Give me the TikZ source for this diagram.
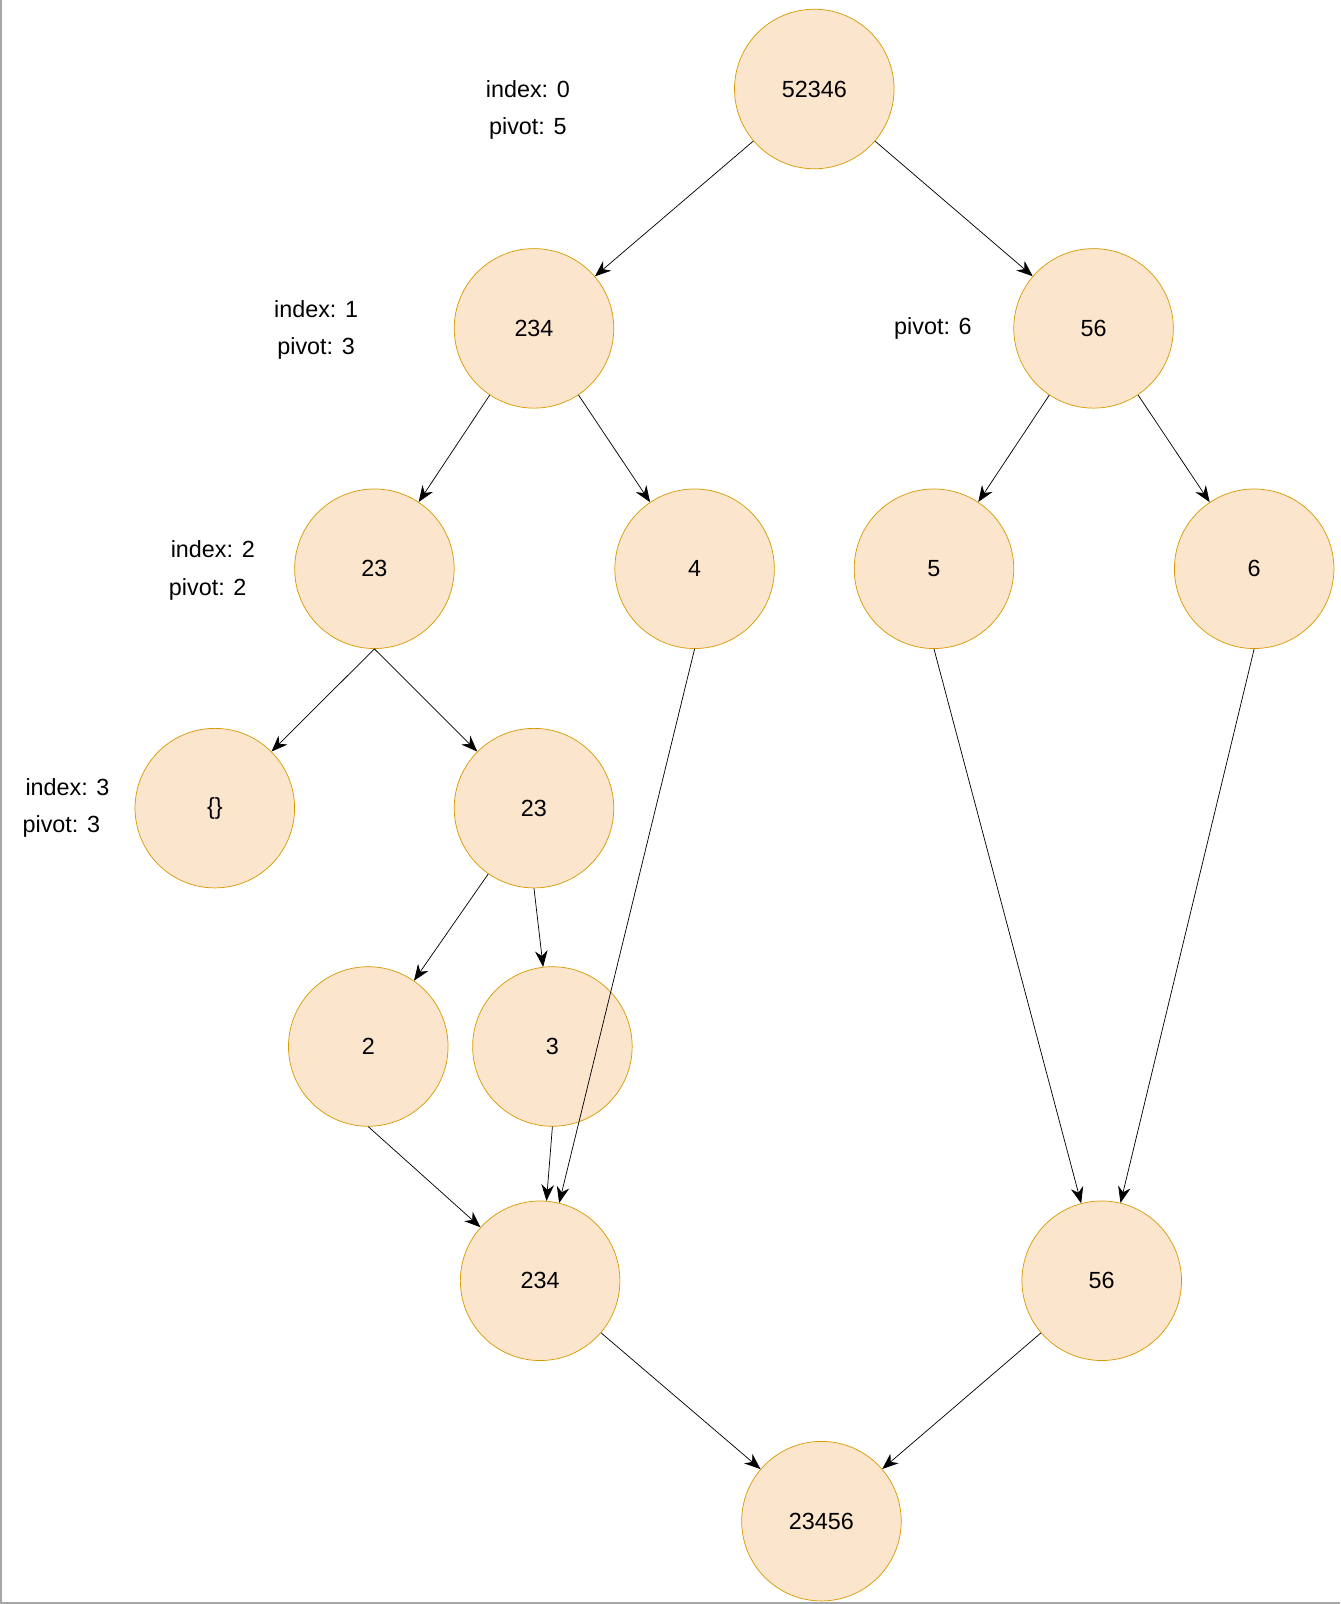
\documentclass[tikz,border=0pt]{standalone}
\usepackage{fontspec}
\setmainfont{Liberation Sans}
\usetikzlibrary{arrows.meta}
\definecolor{nodefill}{HTML}{FCE5CD}
\definecolor{nodeline}{HTML}{D79B00}
\tikzset{
	vertex/.style={circle,draw=nodeline,fill=nodefill,minimum size=3.12cm,inner sep=0pt,font=\fontsize{13}{15}\selectfont},
	note/.style={draw=none,font=\fontsize{13}{15}\selectfont,inner sep=0pt},
	directed/.style={arrows={-Stealth[length=9pt,width=7pt]},thin}
	}
\begin{document}
\begin{tikzpicture}[x=0.02cm,y=-0.02cm]
	\useasboundingbox (0,0) rectangle (1310,1568);
	\draw[gray!70,line width=1.5pt] (0.5,0) -- (0.5,1567) -- (1310,1567);
	\node[vertex] (a) at (796,87) {52346};
	\node[vertex] (b) at (522,321) {234};
	\node[vertex] (c) at (1069,321) {56};
	\node[vertex] (d) at (366,556) {23};
	\node[vertex] (e) at (679,556) {4};
	\node[vertex] (f) at (913,556) {5};
	\node[vertex] (g) at (1226,556) {6};
	\node[vertex] (h) at (210,790) {\{\}};
	\node[vertex] (i) at (522,790) {23};
	\node[vertex] (j) at (360,1023) {2};
	\node[vertex] (k) at (540,1023) {3};
	\node[vertex] (l) at (528,1252) {234};
	\node[vertex] (m) at (1077,1252) {56};
	\node[vertex] (n) at (803,1487) {23456};

	\node[note] (ia) at (516,87) {index: 0};
	\node[note] (pa) at (516,126) {pivot: 5};
	\node[note] (ib) at (309,302) {index: 1};
	\node[note] (pb) at (309,341) {pivot: 3};
	\node[note] (pc) at (912,321) {pivot: 6};
	\node[note] (id) at (208,537) {index: 2};
	\node[note] (pd) at (203,576) {pivot: 2};
	\node[note] (ih) at (66,769) {index: 3};
	\node[note] (ph) at (60,808) {pivot: 3};

	\draw[directed] (a) -- (b);
	\draw[directed] (a) -- (c);
	\draw[directed] (b) -- (d);
	\draw[directed] (b) -- (e);
	\draw[directed] (c) -- (f);
	\draw[directed] (c) -- (g);
	\draw[directed] (d.south) -- (h);
	\draw[directed] (d.south) -- (i);
	\draw[directed] (i) -- (j);
	\draw[directed] (i.south) -- (k);
	\draw[directed] (j.south) -- (l);
	\draw[directed] (k.south) -- (l);
	\draw[directed] (e.south) -- (l);
	\draw[directed] (f.south) -- (m);
	\draw[directed] (g.south) -- (m);
	\draw[directed] (l) -- (n);
	\draw[directed] (m) -- (n);
\end{tikzpicture}
\end{document}
